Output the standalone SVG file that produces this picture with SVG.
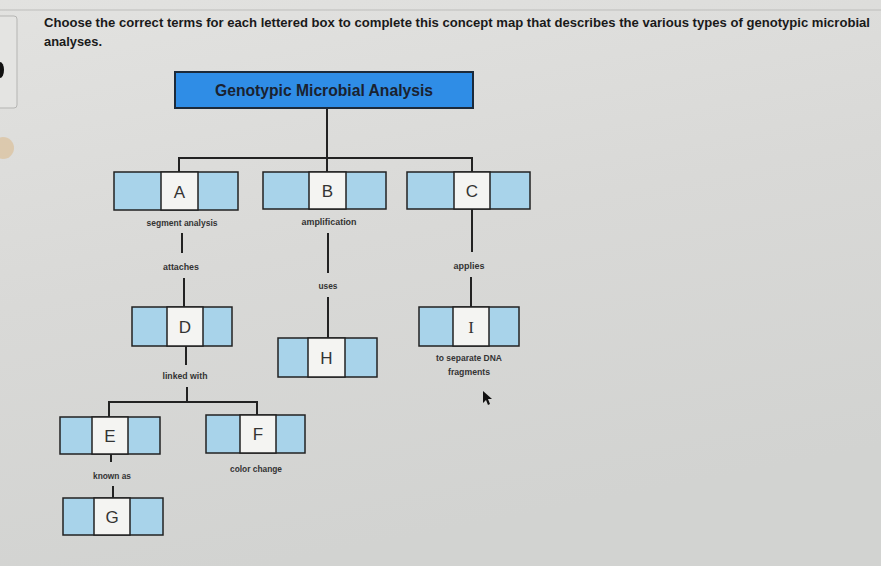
<svg xmlns="http://www.w3.org/2000/svg" width="881" height="566" viewBox="0 0 881 566">
<defs>
<linearGradient id="bg" x1="0" y1="0" x2="0.3" y2="1">
<stop offset="0" stop-color="#e2e2e0"/>
<stop offset="0.5" stop-color="#d9d9d7"/>
<stop offset="1" stop-color="#d2d3d1"/>
</linearGradient>
<style>
.ln{stroke:#222;stroke-width:2;fill:none}
.side{fill:#a8d3ea;stroke:#222;stroke-width:1.5}
.mid{fill:#f4f4f2;stroke:#222;stroke-width:1.5}
.let{font-family:"Liberation Sans",Arial,sans-serif;font-size:17px;fill:#333;text-anchor:middle}
.lab{font-family:"Liberation Sans",Arial,sans-serif;font-size:9.5px;font-weight:bold;fill:#333;text-anchor:middle}
.q{font-family:"Liberation Sans",Arial,sans-serif;font-size:13px;font-weight:bold;fill:#1a1a1a}
</style>
</defs>
<rect x="0" y="0" width="881" height="566" fill="url(#bg)"/>
<line x1="0" y1="10" x2="881" y2="10" stroke="#bdbdbb" stroke-width="1"/>
<rect x="-6" y="16" width="23" height="92" rx="3" fill="#e4e4e2" stroke="#b5b5b3" stroke-width="1"/>
<ellipse cx="0" cy="70" rx="4" ry="8" fill="#111"/>
<ellipse cx="3" cy="148" rx="11" ry="11" fill="#d9a45a" opacity="0.35"/>
<text class="q" x="44" y="27" textLength="826" lengthAdjust="spacingAndGlyphs">Choose the correct terms for each lettered box to complete this concept map that describes the various types of genotypic microbial</text>
<text class="q" x="44" y="46" textLength="58" lengthAdjust="spacingAndGlyphs">analyses.</text>

<g id="connectors">
<path class="ln" d="M327 108V158M179 158H472M179 157V172M327 157V172M472 157V172"/>
<path class="ln" d="M182 233V253M184 278V307"/>
<path class="ln" d="M186 346V365M187 387V402M109 402H257M109 401V417M257 401V415"/>
<path class="ln" d="M111 454V462M113 486V498"/>
<path class="ln" d="M328 233V273M328 297V338"/>
<path class="ln" d="M472 209V252M471 277V307"/>
</g>

<g id="root">
<rect x="175" y="72" width="298" height="36" fill="#2f8de6" stroke="#1c2a3a" stroke-width="2"/>
<text x="324" y="96" font-family="Liberation Sans,Arial,sans-serif" font-size="17" font-weight="bold" fill="#1a2230" text-anchor="middle" textLength="218" lengthAdjust="spacingAndGlyphs">Genotypic Microbial Analysis</text>
</g>

<g id="nodeA">
<rect class="side" x="114" y="172" width="124" height="38"/>
<rect class="mid" x="161" y="172" width="37" height="38"/>
<text class="let" x="179.5" y="198">A</text>
</g>
<g id="nodeB">
<rect class="side" x="263" y="172" width="123" height="37"/>
<rect class="mid" x="309" y="172" width="37" height="37"/>
<text class="let" x="327.5" y="197">B</text>
</g>
<g id="nodeC">
<rect class="side" x="407" y="172" width="123" height="37"/>
<rect class="mid" x="454" y="172" width="36" height="37"/>
<text class="let" x="472" y="197">C</text>
</g>

<g id="labels">
<text class="lab" x="182" y="226" textLength="71" lengthAdjust="spacingAndGlyphs">segment analysis</text>
<text class="lab" x="181" y="270" textLength="36" lengthAdjust="spacingAndGlyphs">attaches</text>
<text class="lab" x="185" y="379" textLength="45" lengthAdjust="spacingAndGlyphs">linked with</text>
<text class="lab" x="112" y="479" textLength="38" lengthAdjust="spacingAndGlyphs">known as</text>
<text class="lab" x="256" y="472" textLength="52" lengthAdjust="spacingAndGlyphs">color change</text>
<text class="lab" x="329" y="225" textLength="55" lengthAdjust="spacingAndGlyphs">amplification</text>
<text class="lab" x="328" y="289" textLength="19" lengthAdjust="spacingAndGlyphs">uses</text>
<text class="lab" x="469" y="269" textLength="31" lengthAdjust="spacingAndGlyphs">applies</text>
<text class="lab" x="469" y="361" textLength="66" lengthAdjust="spacingAndGlyphs">to separate DNA</text>
<text class="lab" x="469" y="375" textLength="42" lengthAdjust="spacingAndGlyphs">fragments</text>
</g>

<g id="nodeD">
<rect class="side" x="132" y="307" width="100" height="39"/>
<rect class="mid" x="167" y="307" width="36" height="39"/>
<text class="let" x="185" y="333">D</text>
</g>
<g id="nodeH">
<rect class="side" x="278" y="338" width="99" height="39"/>
<rect class="mid" x="308" y="338" width="37" height="39"/>
<text class="let" x="326.5" y="364">H</text>
</g>
<g id="nodeI">
<rect class="side" x="419" y="307" width="100" height="39"/>
<rect class="mid" x="453" y="307" width="36" height="39"/>
<text x="471" y="333" font-family="Liberation Serif,serif" font-size="17" fill="#333" text-anchor="middle">I</text>
</g>
<g id="nodeE">
<rect class="side" x="60" y="417" width="100" height="37"/>
<rect class="mid" x="92" y="417" width="36" height="37"/>
<text class="let" x="110" y="442">E</text>
</g>
<g id="nodeF">
<rect class="side" x="206" y="415" width="99" height="38"/>
<rect class="mid" x="240" y="415" width="36" height="38"/>
<text class="let" x="258" y="440">F</text>
</g>
<g id="nodeG">
<rect class="side" x="63" y="498" width="100" height="37"/>
<rect class="mid" x="94" y="498" width="36" height="37"/>
<text class="let" x="112" y="523">G</text>
</g>
<path d="M483 391L483 403L486 400L488 405L490 404L488 399L492 399Z" fill="#111"/>
</svg>
